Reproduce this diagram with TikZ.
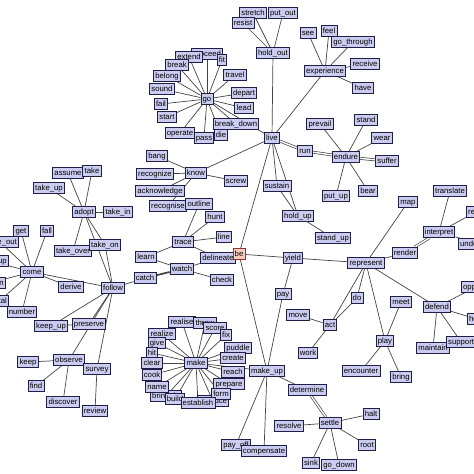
\documentclass[tikz,border=0pt]{standalone}
\usepackage{fontspec}
\newfontfamily\wordfont{Liberation Sans}
\usetikzlibrary{backgrounds}
\definecolor{boxfill}{RGB}{204,204,240}
\definecolor{boxline}{RGB}{30,30,70}
\definecolor{linkgray}{RGB}{70,70,70}
\definecolor{rootfill}{RGB}{250,205,190}
\definecolor{rootline}{RGB}{150,50,50}
\begin{document}
\begin{tikzpicture}[x=0.02cm,y=-0.02cm,
	word/.style={draw=boxline, fill=boxfill, line width=0.5pt, inner xsep=1pt, inner ysep=0.8pt,
		text height=3.4pt, text depth=1.1pt, font=\wordfont\fontsize{4.4}{5}\selectfont},
	rootword/.style={word, fill=rootfill, draw=rootline},
	link/.style={draw=linkgray, line width=0.4pt},
	twin/.style={link, double=white, double distance=0.8pt},
	heavy/.style={draw=linkgray, line width=1pt}]
	\useasboundingbox (0,0) rectangle (474,474);
	\clip (0,0) rectangle (474,474);
	
	% top: hold_out, experience
	\node[word] (stretch) at (253,13) {stretch};
	\node[word] (putout) at (283,13) {put\_out};
	\node[word] (resist) at (243,23) {resist};
	\node[word] (holdout) at (273,53) {hold\_out};
	\node[word] (see) at (308,33) {see};
	\node[word] (feel) at (329,31) {feel};
	\node[word] (gothrough) at (353,42) {go\_through};
	\node[word] (receive) at (365,64) {receive};
	\node[word] (experience) at (325,71) {experience};
	\node[word] (have) at (363,88) {have};
	
	% go
	\node[word] (proceed) at (207,54) {proceed};
	\node[word] (extend) at (189,57) {extend};
	\node[word] (fit) at (222,60) {fit};
	\node[word] (break) at (177,65) {break};
	\node[word] (belong) at (167,76) {belong};
	\node[word] (travel) at (235,75) {travel};
	\node[word] (sound) at (162,89) {sound};
	\node[word] (depart) at (244,93) {depart};
	\node[word] (go) at (207,99) {go};
	\node[word] (fail) at (161,104) {fail};
	\node[word] (lead) at (244,108) {lead};
	\node[word] (start) at (167,117) {start};
	\node[word] (breakdown) at (236,124) {break\_down};
	\node[word] (operate) at (180,133) {operate};
	\node[word] (pass) at (204,138) {pass};
	\node[word] (die) at (221,135) {die};
	\node[word] (live) at (272,138) {live};
	\node[word] (run) at (305,151) {run};
	
	% endure
	\node[word] (prevail) at (320,124) {prevail};
	\node[word] (stand) at (366,120) {stand};
	\node[word] (wear) at (382,138) {wear};
	\node[word] (endure) at (346,157) {endure};
	\node[word] (suffer) at (387,161) {suffer};
	\node[word] (putup) at (336,196) {put\_up};
	\node[word] (bear) at (368,191) {bear};
	
	% know, trace
	\node[word] (bang) at (157,156) {bang};
	\node[word] (know) at (196,173) {know};
	\node[word] (recognize) at (155,174) {recognize};
	\node[word] (screw) at (236,181) {screw};
	\node[word] (acknowledge) at (160,191) {acknowledge};
	\node[word] (recognise) at (168,206) {recognise};
	\node[word] (outline) at (199,204) {outline};
	\node[word] (hunt) at (215,217) {hunt};
	\node[word] (line) at (224,237) {line};
	\node[word] (trace) at (183,242) {trace};
	\node[word] (learn) at (146,257) {learn};
	\node[word] (watch) at (182,269) {watch};
	\node[word] (catch) at (145,278) {catch};
	\node[word] (check) at (222,280) {check};
	\node[word] (delineate) at (218,258) {delineate};
	\node[rootword] (be) at (239,254) {be};
	
	% middle
	\node[word] (sustain) at (277,186) {sustain};
	\node[word] (holdup) at (298,216) {hold\_up};
	\node[word] (standup) at (333,238) {stand\_up};
	\node[word] (yield) at (293,258) {yield};
	\node[word] (pay) at (283,294) {pay};
	
	% adopt, come, follow
	\node[word] (assume) at (68,173) {assume};
	\node[word] (take) at (92,171) {take};
	\node[word] (takeup) at (49,188) {take\_up};
	\node[word] (adopt) at (84,212) {adopt};
	\node[word] (takein) at (118,212) {take\_in};
	\node[word] (get) at (21,231) {get};
	\node[word] (fall) at (47,231) {fall};
	\node[word, anchor=east] (comeout) at (19,242) {come\_out};
	\node[word, anchor=east] (comeup) at (9,261) {come\_up};
	\node[word, anchor=east] (comein) at (6,283) {come\_in};
	\node[word, anchor=east] (total) at (9,301) {total};
	\node[word] (takeover) at (73,251) {take\_over};
	\node[word] (takeon) at (105,245) {take\_on};
	\node[word] (come) at (32,272) {come};
	\node[word] (derive) at (71,287) {derive};
	\node[word] (follow) at (113,288) {follow};
	\node[word] (number) at (22,312) {number};
	\node[word] (keepup) at (51,326) {keep\_up};
	\node[word] (preserve) at (89,324) {preserve};
	\node[word] (keep) at (28,362) {keep};
	\node[word] (observe) at (69,360) {observe};
	\node[word] (survey) at (97,369) {survey};
	\node[word] (find) at (36,386) {find};
	\node[word] (discover) at (63,402) {discover};
	\node[word] (review) at (95,411) {review};
	
	% make
	\node[word] (realise) at (182,322) {realise};
	\node[word] (throw) at (205,323) {throw};
	\node[word] (score) at (215,328) {score};
	\node[word] (realize) at (162,334) {realize};
	\node[word] (fix) at (226,335) {fix};
	\node[word] (give) at (157,343) {give};
	\node[word] (puddle) at (238,348) {puddle};
	\node[word] (hit) at (152,353) {hit};
	\node[word] (create) at (233,358) {create};
	\node[word] (clear) at (152,363) {clear};
	\node[word] (reach) at (233,372) {reach};
	\node[word] (cook) at (152,375) {cook};
	\node[word] (prepare) at (229,384) {prepare};
	\node[word] (bringin) at (166,396) {bring\_in};
	\node[word] (name) at (157,387) {name};
	\node[word] (produce) at (213,401) {produce};
	\node[word] (form) at (221,394) {form};
	\node[word] (build) at (175,399) {build};
	\node[word] (establish) at (198,403) {establish};
	\node[word] (make) at (196,363) {make};
	
	% make_up, settle
	\node[word] (makeup) at (267,371) {make\_up};
	\node[word] (determine) at (307,390) {determine};
	\node[word] (resolve) at (289,426) {resolve};
	\node[word] (settle) at (330,423) {settle};
	\node[word] (halt) at (371,414) {halt};
	\node[word] (root) at (367,445) {root};
	\node[word] (sink) at (311,463) {sink};
	\node[word] (godown) at (339,465) {go\_down};
	\node[word] (payoff) at (236,445) {pay\_off};
	\node[word] (compensate) at (264,451) {compensate};
	
	% represent
	\node[word] (move) at (298,315) {move};
	\node[word] (work) at (308,353) {work};
	\node[word] (act) at (330,325) {act};
	\node[word] (do) at (357,298) {do};
	\node[word] (map) at (408,202) {map};
	\node[word] (translate) at (450,191) {translate};
	\node[word, anchor=west] (read) at (466,212) {read};
	\node[word] (interpret) at (439,232) {interpret};
	\node[word, anchor=west] (understand) at (458,244) {understand};
	\node[word] (render) at (405,253) {render};
	\node[word] (represent) at (366,263) {represent};
	\node[word, anchor=west] (oppose) at (461,287) {oppose};
	\node[word] (meet) at (401,302) {meet};
	\node[word] (defend) at (437,307) {defend};
	\node[word, anchor=west] (hold) at (467,319) {hold};
	\node[word] (play) at (385,341) {play};
	\node[word] (maintain) at (433,348) {maintain};
	\node[word, anchor=west] (support) at (446,342) {support};
	\node[word] (encounter) at (361,371) {encounter};
	\node[word] (bring) at (401,377) {bring};
	
	\begin{scope}[on background layer]
		\fill[white] (0,0) rectangle (474,474);
		% be
		\draw[link] (be) -- (live);
		\draw[link] (be) -- (yield);
		\draw[link] (yield) -- (represent);
		\draw[link] (be) -- (makeup);
		\draw[link] (be) -- (delineate);
		\draw[link] (yield) -- (pay);
		\draw[link] (pay) -- (makeup);
		% live
		\draw[link] (live) -- (holdout);
		\foreach \w in {stretch,putout,resist}
			\draw[link] (holdout) -- (\w);
		\draw[link] (live) -- (experience);
		\foreach \w in {see,feel,gothrough,receive,have}
			\draw[link] (experience) -- (\w);
		\draw[link] (live) -- (go);
		\foreach \w in {proceed,extend,fit,break,belong,travel,sound,depart,fail,lead,start,breakdown,operate,pass,die}
			\draw[link] (go) -- (\w);
		\draw[twin] (live) -- (run);
		\draw[twin] (run) -- (endure);
		\foreach \w in {prevail,stand,wear,putup,bear}
			\draw[link] (endure) -- (\w);
		\draw[twin] (endure) -- (suffer);
		\draw[link] (live) -- (know);
		\foreach \w in {bang,recognize,screw,acknowledge,recognise}
			\draw[link] (know) -- (\w);
		\draw[link] (live) -- (sustain);
		\draw[link] (live) -- (holdup);
		\draw[link] (sustain) -- (holdup);
		\draw[link] (holdup) -- (standup);
		% trace, watch
		\foreach \w in {outline,hunt,line,delineate,learn}
			\draw[link] (trace) -- (\w);
		\draw[link] (watch) -- (learn);
		\draw[heavy] (watch) -- (catch);
		\draw[link] (watch) -- (check);
		\draw[link] (watch) -- (delineate);
		\draw[link] (catch) -- (follow);
		% adopt, come, follow
		\foreach \w in {assume,take,takeup,takein,takeover,takeon,follow}
			\draw[link] (adopt) -- (\w);
		\draw[link] (takeon) -- (follow);
		\foreach \w in {get,fall,comeout,comeup,comein,total,number,derive,follow}
			\draw[link] (come) -- (\w);
		\foreach \w in {keepup,preserve,observe,survey}
			\draw[link] (follow) -- (\w);
		\draw[link] (keepup) -- (preserve);
		\foreach \w in {keep,find,discover}
			\draw[link] (observe) -- (\w);
		\draw[link] (survey) -- (review);
		% make
		\foreach \w in {realise,throw,score,realize,fix,give,puddle,hit,create,clear,reach,cook,prepare,bringin,name,produce,form,build,establish,makeup}
			\draw[link] (make) -- (\w);
		\foreach \w in {payoff,compensate,determine}
			\draw[link] (makeup) -- (\w);
		\draw[twin] (determine) -- (settle);
		\foreach \w in {resolve,halt,root,sink,godown}
			\draw[link] (settle) -- (\w);
		% represent
		\foreach \w in {map,render,do,act,play,defend}
			\draw[link] (represent) -- (\w);
		\draw[twin] (render) -- (interpret);
		\foreach \w in {translate,read,understand}
			\draw[link] (interpret) -- (\w);
		\foreach \w in {move,work,do}
			\draw[link] (act) -- (\w);
		\foreach \w in {meet,encounter,bring}
			\draw[link] (play) -- (\w);
		\foreach \w in {oppose,hold,maintain,support}
			\draw[link] (defend) -- (\w);
	\end{scope}
\end{tikzpicture}
\end{document}
